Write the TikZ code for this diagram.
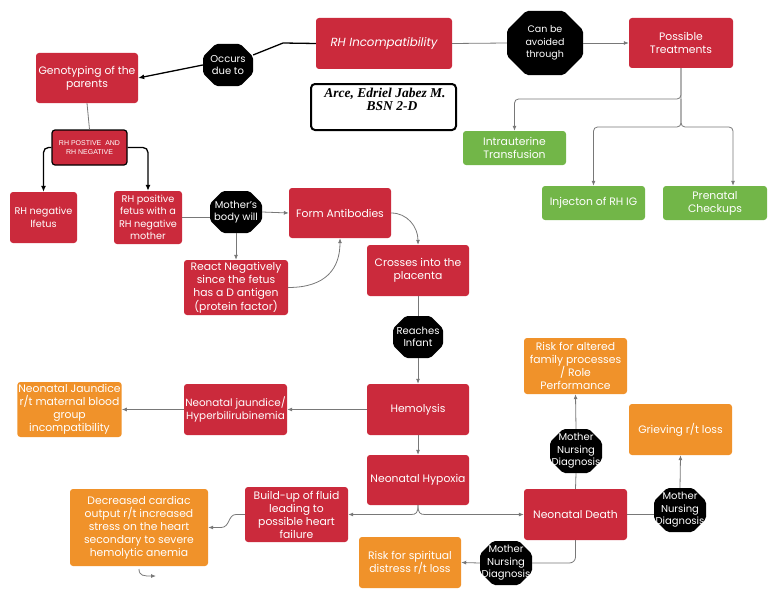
\documentclass[tikz,border=0pt]{standalone}
\usepackage{fontspec}
\setmainfont{Poppins}
\newfontfamily\arialf{Liberation Sans}
\newfontfamily\timesf{Liberation Serif}
\usetikzlibrary{arrows.meta,calc}
\definecolor{myred}{RGB}{203,42,60}
\definecolor{myorange}{RGB}{240,146,42}
\definecolor{mygreen}{RGB}{114,182,72}
\definecolor{linegray}{RGB}{120,120,120}
\newcommand\myoct[7]{% name, x, y, halfw, halfh, fontsize, text
  \pgfmathsetmacro\oc{0.3*min(2*#4,2*#5)}
  \fill[black,rounded corners=2pt] ({#2-#4},{#3-#5+\oc}) -- ({#2-#4+\oc},{#3-#5}) -- ({#2+#4-\oc},{#3-#5}) -- ({#2+#4},{#3-#5+\oc}) -- ({#2+#4},{#3+#5-\oc}) -- ({#2+#4-\oc},{#3+#5}) -- ({#2-#4+\oc},{#3+#5}) -- ({#2-#4},{#3+#5-\oc}) -- cycle;
  \node[octtext, minimum width={2*#4pt}, minimum height={2*#5pt}, font=\fontsize{#6}{12.5}\selectfont] (#1) at (#2,#3) {#7};
}
\begin{document}
\begin{tikzpicture}[x=1pt,y=-1pt,
  box/.style={rectangle, rounded corners=3pt, fill=myred, text=white, align=center, inner sep=1pt, font=\fontsize{10.8}{13}\selectfont},
  obox/.style={box, fill=myorange},
  gbox/.style={box, fill=mygreen},
  octtext/.style={rectangle, inner sep=0pt, align=center, text=white},
  conn/.style={draw=linegray, line width=0.8pt},
  arr/.style={conn, -{Latex[length=5pt,width=4pt]}},
  bconn/.style={draw=black, line width=1.3pt},
  barr/.style={bconn, -{Latex[length=6pt,width=5pt]}}]
\useasboundingbox (0,0) rectangle (768,594);

% top row
\node[box, minimum width=136pt, minimum height=51pt, font=\fontsize{11.8}{13}\selectfont\itshape] (inc) at (384,43.5) {RH Incompatibility};
\node[box, minimum width=104pt, minimum height=50pt] (pt) at (681,43) {Possible\\Treatments};
\myoct{can}{545}{43}{38}{32}{9.5}{Can be\\avoided\\through}
\myoct{occ}{228}{65}{25}{21}{10}{Occurs\\due to}
\node[box, minimum width=102pt, minimum height=50pt] (geno) at (87,78) {Genotyping of the\\parents};
\node[rectangle, draw=black, line width=2pt, rounded corners=4pt, fill=white, minimum width=145pt, minimum height=46pt] (arce) at (383.5,107) {};
\node[font=\timesf\bfseries\itshape\fontsize{13.5}{13}\selectfont, align=center, inner sep=0pt] (arcet) at (385,99) {Arce, Edriel Jabez M.\\\hspace*{14pt}BSN 2-D};

\node[box, draw=black, line width=1.2pt, minimum width=75pt, minimum height=35pt, font=\arialf\fontsize{7}{9}\selectfont] (rhb) at (89.5,147.5) {RH POSTIVE\ \ AND\\RH NEGATIVE};

% green
\node[gbox, minimum width=103pt, minimum height=34pt] (intra) at (514.5,148) {Intrauterine\\Transfusion};
\node[gbox, minimum width=103pt, minimum height=34pt] (inj) at (593.5,203) {Injecton of RH IG};
\node[gbox, minimum width=104pt, minimum height=34pt] (pre) at (715,203) {Prenatal\\Checkups};

% second row
\node[box, minimum width=67pt, minimum height=51pt, font=\fontsize{9.7}{12.5}\selectfont] (neg) at (43.5,217.5) {RH negative\\lfetus};
\node[box, minimum width=68pt, minimum height=53pt, font=\fontsize{9.7}{12.5}\selectfont] (fetus) at (148,217.5) {RH positive\\fetus with a\\RH negative\\mother};
\myoct{mbw}{236}{212}{26}{21}{10}{Mother's\\body will}
\node[box, minimum width=102pt, minimum height=50pt] (fa) at (340,213) {Form Antibodies};
\node[box, minimum width=104pt, minimum height=55pt] (react) at (236,287.5) {React Negatively\\since the fetus\\has a D antigen\\(protein factor)};
\node[box, minimum width=102pt, minimum height=51pt] (cross) at (418,270.5) {Crosses into the\\placenta};
\myoct{reach}{418}{337}{25}{21}{10}{Reaches\\Infant}

% middle
\node[box, minimum width=102pt, minimum height=51pt] (hemo) at (418,409.5) {Hemolysis};
\node[box, minimum width=102pt, minimum height=50pt] (hyp) at (418,480) {Neonatal Hypoxia};
\node[box, minimum width=103pt, minimum height=51pt, font=\fontsize{10.4}{13}\selectfont] (jaund) at (235.5,409.5) {Neonatal jaundice/\\Hyperbilirubinemia};
\node[obox, minimum width=103pt, minimum height=55pt] (njr) at (69.5,409.5) {Neonatal Jaundice\\r/t maternal blood\\group\\incompatibility};
\node[box, minimum width=103pt, minimum height=55pt] (build) at (296.5,514.5) {Build-up of fluid\\leading to\\possible heart\\failure};
\node[obox, minimum width=138pt, minimum height=77pt] (dec) at (139,527.5) {Decreased cardiac\\output r/t increased\\stress on the heart\\secondary to severe\\hemolytic anemia};
\node[box, minimum width=103pt, minimum height=51pt] (death) at (575.5,514.5) {Neonatal Death};
\node[obox, minimum width=102pt, minimum height=51pt] (spirit) at (410,562.5) {Risk for spiritual\\distress r/t loss};
\node[obox, minimum width=103pt, minimum height=56pt] (fam) at (575.5,366) {Risk for altered\\family processes\\/ Role\\Performance};
\node[obox, minimum width=103pt, minimum height=51pt] (grief) at (680.5,429.5) {Grieving r/t loss};
\myoct{mA}{576}{451}{26}{22}{10}{Mother\\Nursing\\Diagnosis}
\myoct{mB}{680}{510}{26}{22}{10}{Mother\\Nursing\\Diagnosis}
\myoct{mC}{506}{563}{26}{22}{10}{Mother\\Nursing\\Diagnosis}

% connectors top
\draw[bconn] (inc.west) -- (283,43) -- (occ);
\draw[barr] (occ.west) -- (geno.east);
\draw[conn] (inc.east) -- (can.west);
\draw[arr] (can.east) -- (pt.west);
\coordinate (b1) at (681,99);
\coordinate (b2) at (681,127);
\coordinate (preT) at ($(pre.north)+(18,0)$);
\draw[arr, rounded corners=4pt] (pt.south) -- (b1) -| (intra.north);
\draw[arr, rounded corners=4pt] (pt.south) -- (b2) -| (inj.north);
\draw[arr, rounded corners=4pt] (b1) -- (b2) -| (preT);

\draw[conn] (geno.south) -- (rhb.north);
\draw[barr, rounded corners=5pt] (rhb.west) -| (neg.north);
\draw[barr, rounded corners=5pt] (rhb.east) -| (fetus.north);

\draw[conn] (fetus.east) -- (fetus.east -| mbw.west);
\draw[arr] (mbw.east) -- (fa.west);
\draw[arr] (mbw.south) -- (react.north);
\draw[arr] (react.east) .. controls +(38,0) and +(0,30) .. (fa.south);
\draw[arr] (fa.east) .. controls +(16,0) and +(0,-18) .. (cross.north);
\draw[conn] (cross.south) -- (reach.north);
\draw[arr] (reach.south) -- (hemo.north);
\draw[arr] (hemo.west) -- (jaund.east);
\draw[arr] (jaund.west) -- (njr.east);
\draw[arr] (hemo.south) -- (hyp.north);
\draw[arr] (hyp.south) .. controls (418,513) and (416,514.5) .. (411,514.5) -- (build.east);
\draw[arr] (hyp.south) .. controls (418,513) and (420,514.5) .. (425,514.5) -- (death.west);
\draw[arr] (build.west) -- (236,514.5) .. controls (228,514.5) and (230,527.5) .. (221,527.5) -- (dec.east);
\coordinate (s1) at (139,569);
\coordinate (s2) at (156,576);
\draw[arr] (s1) .. controls (139,576) and (144,576) .. (s2);

\draw[conn] (death.north) -- (mA.south);
\draw[arr] (mA.north) -- (fam.south);
\draw[conn] (death.east) -- (death.east -| mB.west);
\draw[arr] (mB.north) -- (grief.south);
\draw[conn, rounded corners=6pt] (death.south) |- (mC.east);
\draw[arr] (mC.west) -- (spirit.east);
\end{tikzpicture}
\end{document}
